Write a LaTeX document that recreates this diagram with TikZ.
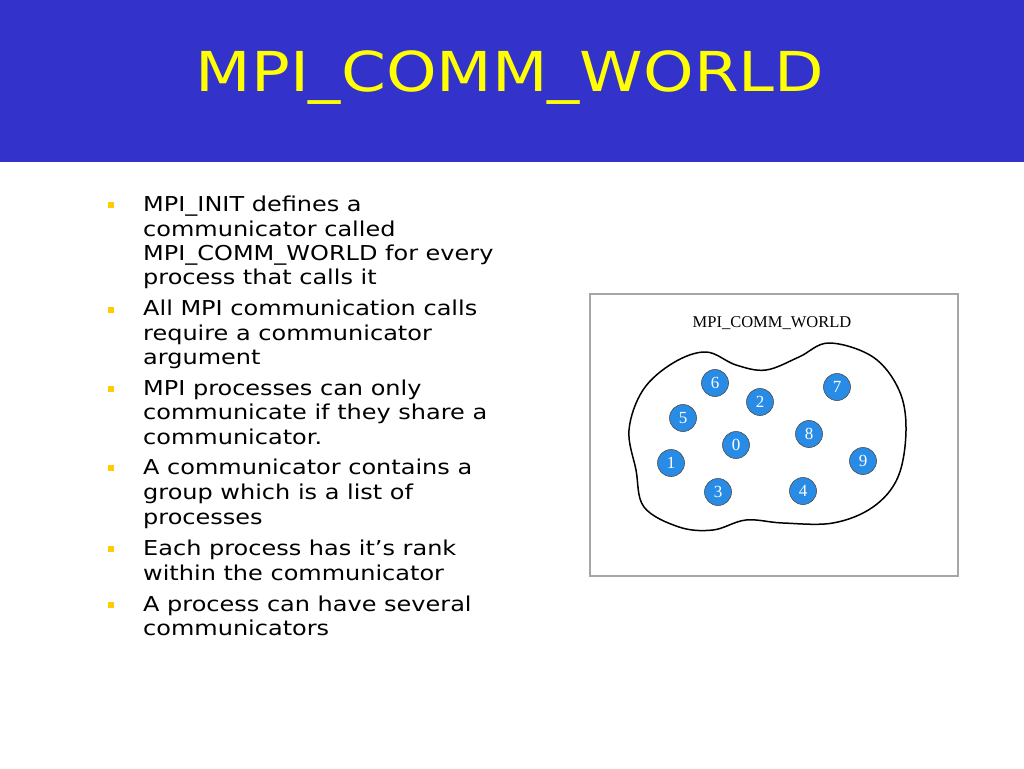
\documentclass[tikz,border=0pt]{standalone}
\usepackage{fontspec}
\setmainfont{DejaVu Sans}
\newfontfamily\widef[FakeStretch=1.17]{DejaVu Sans}
\newfontfamily\serifx{Liberation Serif}
\definecolor{hdr}{RGB}{51,51,204}
\definecolor{ttl}{RGB}{255,255,0}
\definecolor{bul}{RGB}{255,204,0}
\definecolor{proc}{RGB}{40,140,230}
\begin{document}
\begin{tikzpicture}[x=1pt,y=-1pt,
  line/.style={anchor=base west,inner sep=0,font=\widef\fontsize{20.5}{24}\selectfont},
  bsq/.style={fill=bul,minimum size=6,inner sep=0},
  pr/.style={circle,fill=proc,draw=black!70,line width=0.6,minimum size=27,inner sep=0,text=white,font=\serifx\fontsize{17}{17}\selectfont}]
\useasboundingbox (0,0) rectangle (1024,768);
\fill[white] (0,0) rectangle (1024,768);
\fill[hdr] (0,0) rectangle (1024,162);
\node[text=ttl,font=\widef\fontsize{55}{60}\selectfont] (title) at (510,78) {MPI\_COMM\_WORLD};
\foreach \y/\n in {205/b1,310/b2,389/b3,468/b4,549/b5,605/b6}{\node[bsq] (\n) at (111,\y) {};}
\foreach \y/\t [count=\i] in {
 211/{MPI\_INIT defines a},236/{communicator called},260/{MPI\_COMM\_WORLD for every},284/{process that calls it},
 315/{All MPI communication calls},340/{require a communicator},364/{argument},
 395/{MPI processes can only},419/{communicate if they share a},444/{communicator.},
 474/{A communicator contains a},499/{group which is a list of},524/{processes},
 555/{Each process has it’s rank},580/{within the communicator},
 611/{A process can have several},635/{communicators}}
 {\node[line] (t\i) at (143,\y) {\t};}
\draw[gray!70,line width=2] (590,294) rectangle (958,576);
\node[font=\serifx\fontsize{16.5}{16}\selectfont] (cap) at (772,323) {MPI\_COMM\_WORLD};
\draw[line width=1.5] plot[smooth cycle,tension=0.6] coordinates {
(629,430)(643,390)(673,363)(706,352)(736,365)(766,370)(799,357)(829,343)(873,357)(899,390)(906,430)(898,477)(873,507)(833,523)(783,523)(746,520)(713,530)(679,527)(644,507)(636,470)};
\foreach \n/\x/\y in {6/715/383,2/760/402,7/837/387,5/683/418,0/736/445,8/809/434,1/671/463,9/863/461,3/718/492,4/803/491}
 {\node[pr] (p\n) at (\x,\y) {\n};}
\end{tikzpicture}
\end{document}
